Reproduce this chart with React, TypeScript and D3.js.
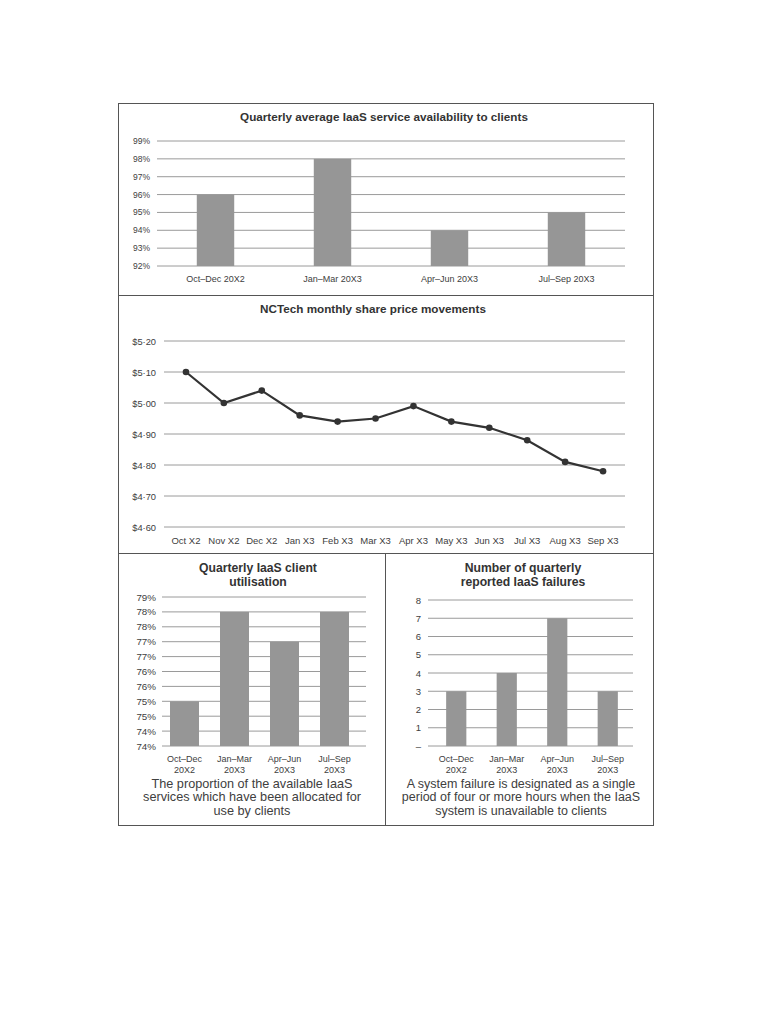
import React from "react";
import * as d3 from "d3";

// ---------- Data ----------
const quarters = ["Oct–Dec 20X2", "Jan–Mar 20X3", "Apr–Jun 20X3", "Jul–Sep 20X3"];
const quarterLines = [["Oct–Dec", "20X2"], ["Jan–Mar", "20X3"], ["Apr–Jun", "20X3"], ["Jul–Sep", "20X3"]];
const availability = [96, 98, 94, 95];
const availabilityTicks = [92, 93, 94, 95, 96, 97, 98, 99];

const months = ["Oct X2", "Nov X2", "Dec X2", "Jan X3", "Feb X3", "Mar X3", "Apr X3", "May X3", "Jun X3", "Jul X3", "Aug X3", "Sep X3"];
const sharePrice = [5.10, 5.00, 5.04, 4.96, 4.94, 4.95, 4.99, 4.94, 4.92, 4.88, 4.81, 4.78];
const priceTicks = [4.6, 4.7, 4.8, 4.9, 5.0, 5.1, 5.2];

const utilisation = [75.5, 78.5, 77.5, 78.5];
const utilTicks = [74, 74.5, 75, 75.5, 76, 76.5, 77, 77.5, 78, 78.5, 79];
const utilTickLabels = ["74%", "74%", "75%", "75%", "76%", "76%", "77%", "77%", "78%", "78%", "79%"];

const failures = [3, 4, 7, 3];
const failTicks = [0, 1, 2, 3, 4, 5, 6, 7, 8];
const failTickLabels = ["–", "1", "2", "3", "4", "5", "6", "7", "8"];

const utilCaption = ["The proportion of the available IaaS", "services which have been allocated for", "use by clients"];
const failCaption = ["A system failure is designated as a single", "period of four or more hours when the IaaS", "system is unavailable to clients"];

// ---------- Styles ----------
const FONT = "'Liberation Sans', Arial, sans-serif";
const BAR = "#969696";
const GRID = "#9a9a9a";
const TEXT = "#404040";
const TITLE = "#333333";

export default function App() {
  // Chart 1
  const y1 = d3.scaleLinear().domain([92, 99]).range([266, 141]);
  const x1 = d3.scaleBand<string>().domain(quarters).range([157, 625]).paddingInner(0.68).paddingOuter(0.34);

  // Chart 2
  const y2 = d3.scaleLinear().domain([4.6, 5.2]).range([527, 341]);
  const x2 = d3.scalePoint<string>().domain(months).range([167, 622]).padding(0.5);
  const line = d3.line<number>().x((_, i) => x2(months[i]) as number).y((d) => y2(d));
  const fmtPrice = (v: number) => "$" + v.toFixed(2).replace(".", "·");

  // Chart 3
  const y3 = d3.scaleLinear().domain([74, 79]).range([746, 597]);
  const x3 = d3.scaleBand<string>().domain(quarters).range([159.5, 359.5]).paddingInner(0.42).paddingOuter(0.21);

  // Chart 4
  const y4 = d3.scaleLinear().domain([0, 8]).range([746, 600]);
  const x4 = d3.scaleBand<string>().domain(quarters).range([431, 633]).paddingInner(0.6).paddingOuter(0.3);

  return (
    <svg width={768} height={1024} style={{ position: "absolute", left: 0, top: 0, background: "#fff" }} fontFamily={FONT}>
      {/* frame */}
      <rect x={118.5} y={103.5} width={535} height={722} fill="none" stroke="#555" strokeWidth={1} />
      <line x1={118} x2={654} y1={295.5} y2={295.5} stroke="#555" />
      <line x1={118} x2={654} y1={553.5} y2={553.5} stroke="#555" />
      <line x1={385.5} x2={385.5} y1={553} y2={826} stroke="#555" />

      {/* Chart 1 */}
      <text x={384} y={121} textAnchor="middle" fontSize={11.7} fontWeight="bold" fill={TITLE}>
        Quarterly average IaaS service availability to clients
      </text>
      {availabilityTicks.map((t) => (
        <g key={"a" + t}>
          <line x1={157} x2={625} y1={y1(t)} y2={y1(t)} stroke={GRID} strokeWidth={1} />
          <text x={150} y={y1(t) + 3} textAnchor="end" fontSize={8.5} fill={TEXT}>{t}%</text>
        </g>
      ))}
      {quarters.map((q, i) => (
        <rect key={"b1" + q} x={x1(q)} y={y1(availability[i])} width={x1.bandwidth()} height={y1(92) - y1(availability[i])} fill={BAR} />
      ))}
      {quarters.map((q) => (
        <text key={"l1" + q} x={(x1(q) as number) + x1.bandwidth() / 2} y={282} textAnchor="middle" fontSize={9} fill={TEXT}>{q}</text>
      ))}

      {/* Chart 2 */}
      <text x={373} y={313} textAnchor="middle" fontSize={11.7} fontWeight="bold" fill={TITLE}>
        NCTech monthly share price movements
      </text>
      {priceTicks.map((t) => (
        <g key={"p" + t}>
          <line x1={164} x2={625} y1={y2(t)} y2={y2(t)} stroke={GRID} strokeWidth={1} />
          <text x={156} y={y2(t) + 3.5} textAnchor="end" fontSize={9.3} fill={TEXT}>{fmtPrice(t)}</text>
        </g>
      ))}
      <path d={line(sharePrice) as string} fill="none" stroke="#333" strokeWidth={2.2} />
      {sharePrice.map((v, i) => (
        <circle key={"c" + i} cx={x2(months[i])} cy={y2(v)} r={3.3} fill="#333" />
      ))}
      {months.map((m) => (
        <text key={"m" + m} x={x2(m)} y={544} textAnchor="middle" fontSize={9.5} fill={TEXT}>{m}</text>
      ))}

      {/* Chart 3 */}
      <text x={258} y={572} textAnchor="middle" fontSize={12.2} fontWeight="bold" fill={TITLE}>Quarterly IaaS client</text>
      <text x={258} y={586} textAnchor="middle" fontSize={12.2} fontWeight="bold" fill={TITLE}>utilisation</text>
      {utilTicks.map((t, i) => (
        <g key={"u" + t}>
          <line x1={162} x2={366} y1={y3(t)} y2={y3(t)} stroke={GRID} strokeWidth={1} />
          <text x={156} y={y3(t) + 3.5} textAnchor="end" fontSize={9.8} fill={TEXT}>{utilTickLabels[i]}</text>
        </g>
      ))}
      {quarters.map((q, i) => (
        <rect key={"b3" + q} x={x3(q)} y={y3(utilisation[i])} width={x3.bandwidth()} height={y3(74) - y3(utilisation[i])} fill={BAR} />
      ))}
      {quarters.map((q, i) => (
        <g key={"l3" + q}>
          {quarterLines[i].map((s, j) => (
            <text key={j} x={(x3(q) as number) + x3.bandwidth() / 2} y={762 + j * 11} textAnchor="middle" fontSize={9} fill={TEXT}>{s}</text>
          ))}
        </g>
      ))}
      {utilCaption.map((s, j) => (
        <text key={"uc" + j} x={252} y={787.5 + j * 13.5} textAnchor="middle" fontSize={12.7} fill={TEXT}>{s}</text>
      ))}

      {/* Chart 4 */}
      <text x={523} y={572} textAnchor="middle" fontSize={12.2} fontWeight="bold" fill={TITLE}>Number of quarterly</text>
      <text x={523} y={586} textAnchor="middle" fontSize={12.2} fontWeight="bold" fill={TITLE}>reported IaaS failures</text>
      {failTicks.map((t, i) => (
        <g key={"f" + t}>
          <line x1={428} x2={633} y1={y4(t)} y2={y4(t)} stroke={GRID} strokeWidth={1} />
          <text x={421} y={y4(t) + 3.5} textAnchor="end" fontSize={9.5} fill={TEXT}>{failTickLabels[i]}</text>
        </g>
      ))}
      {quarters.map((q, i) => (
        <rect key={"b4" + q} x={x4(q)} y={y4(failures[i])} width={x4.bandwidth()} height={y4(0) - y4(failures[i])} fill={BAR} />
      ))}
      {quarters.map((q, i) => (
        <g key={"l4" + q}>
          {quarterLines[i].map((s, j) => (
            <text key={j} x={(x4(q) as number) + x4.bandwidth() / 2} y={762 + j * 11} textAnchor="middle" fontSize={9} fill={TEXT}>{s}</text>
          ))}
        </g>
      ))}
      {failCaption.map((s, j) => (
        <text key={"fc" + j} x={521} y={787.5 + j * 13.5} textAnchor="middle" fontSize={12.5} fill={TEXT}>{s}</text>
      ))}
    </svg>
  );
}
